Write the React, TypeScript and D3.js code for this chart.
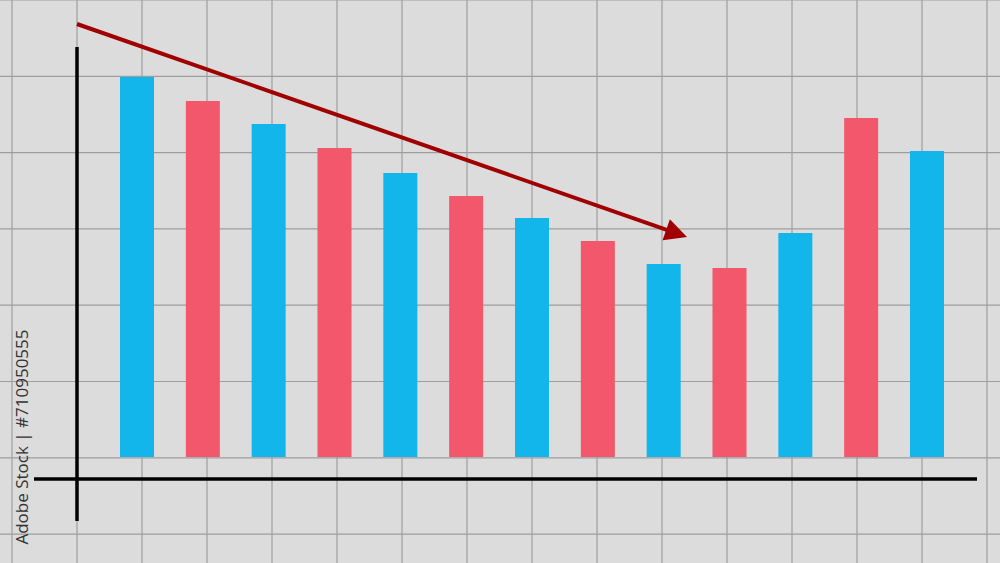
import React from "react";
import * as d3 from "d3";

// bar heights (baseline = 0)
const categories = ["1", "2", "3", "4", "5", "6", "7", "8", "9", "10", "11", "12", "13"];
const values = [380, 356, 333, 309, 284, 261, 239, 216, 193, 189, 224, 339, 306];
const barColors = ["#12b6ea", "#f2576b"];
const watermarkId = "Adobe Stock | #710950555";

const W = 1000;
const H = 563;

export default function App() {
  // scales
  const x = d3.scalePoint<string>().domain(categories).range([137, 927]);
  const y = d3.scaleLinear().domain([0, 400]).range([457, 57]);
  const barW = 34;

  // background grid
  const gridX = d3.range(12, W, 65);
  const gridY = d3.range(0, H, 76.3);

  // trend arrow, from top of y axis down to the low point
  const a0: [number, number] = [77, 24];
  const a1: [number, number] = [687, 237];
  const dx = a1[0] - a0[0];
  const dy = a1[1] - a0[1];
  const len = Math.hypot(dx, dy);
  const ux = dx / len;
  const uy = dy / len;
  const headLen = 22;
  const headHalf = 11;
  const bx = a1[0] - ux * headLen;
  const by = a1[1] - uy * headLen;
  const head = [
    [a1[0], a1[1]],
    [bx - uy * headHalf, by + ux * headHalf],
    [bx + uy * headHalf, by - ux * headHalf],
  ];

  return (
    <svg
      width={W}
      height={H}
      style={{ position: "absolute", top: 0, left: 0, display: "block" }}
    >
      <rect x={0} y={0} width={W} height={H} fill="#dcdcdc" />

      {/* grid */}
      <g stroke="#9e9e9e" strokeWidth={1.2}>
        {gridX.map((gx) => (
          <line key={"gx" + gx} x1={gx} x2={gx} y1={0} y2={H} />
        ))}
        {gridY.map((gy) => (
          <line key={"gy" + gy} x1={0} x2={W} y1={gy} y2={gy} />
        ))}
      </g>

      {/* bars */}
      {values.map((v, i) => (
        <rect
          key={i}
          x={(x(categories[i]) as number) - barW / 2}
          y={y(v)}
          width={barW}
          height={y(0) - y(v)}
          fill={barColors[i % 2]}
        />
      ))}

      {/* axes */}
      <line x1={77} x2={77} y1={47} y2={521} stroke="#000" strokeWidth={3.5} />
      <line x1={34} x2={977} y1={479} y2={479} stroke="#000" strokeWidth={3.5} />

      {/* arrow */}
      <line
        x1={a0[0]}
        y1={a0[1]}
        x2={bx + ux * 2}
        y2={by + uy * 2}
        stroke="#a00000"
        strokeWidth={4}
      />
      <polygon points={head.map((p) => p.join(",")).join(" ")} fill="#a00000" />

      {/* stock id */}
      <text
        transform="translate(28, 437) rotate(-90)"
        textAnchor="middle"
        fontFamily="'Open Sans', sans-serif"
        fontSize={17}
        fill="#333"
      >
        {watermarkId}
      </text>
    </svg>
  );
}
